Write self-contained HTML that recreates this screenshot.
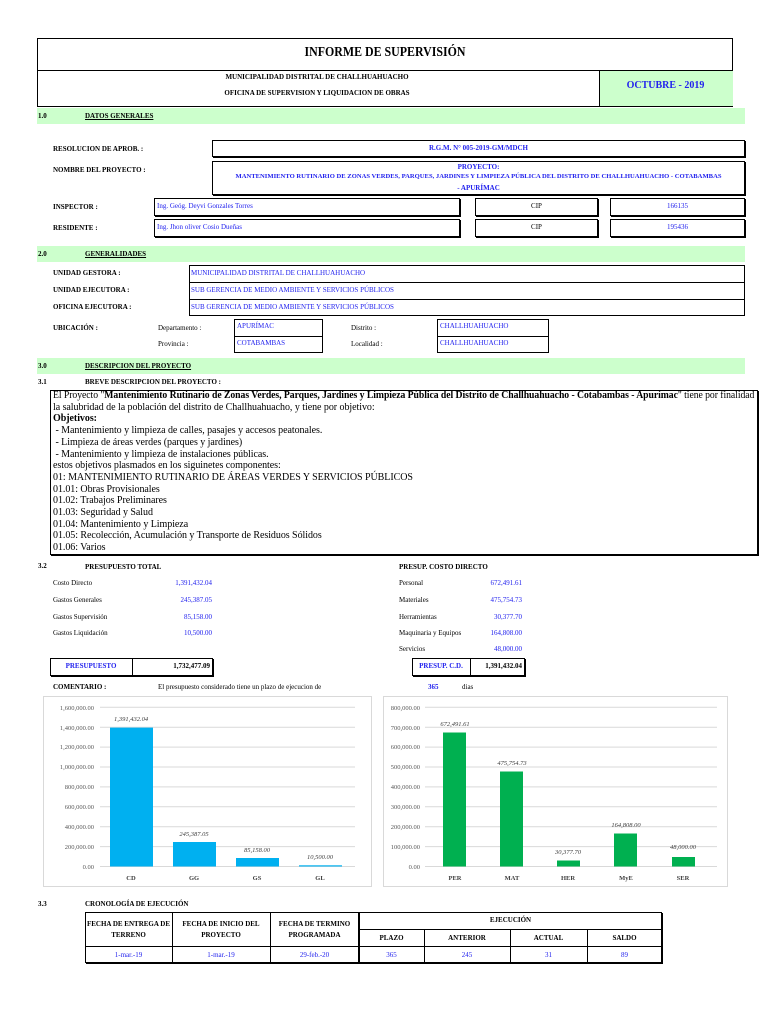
<!DOCTYPE html>
<html><head><meta charset="utf-8"><style>
body{margin:0;background:#fff;}
#p{position:relative;width:768px;height:1024px;overflow:hidden;font-family:"Liberation Serif",serif;color:#000;}
.a{position:absolute;white-space:nowrap;}
.b{position:absolute;border:1px solid #000;box-sizing:border-box;}
.s{box-shadow:1px 1px 0 #000;}
.bl{color:#2222ee;}
.g{position:absolute;background:#ccffcc;}
.f7{font-size:7px;}
.f8{font-size:8px;}
.bd{font-weight:bold;}
.c{text-align:center;}
.u{text-decoration:underline;}
</style></head><body><div id="p">

<!-- header -->
<div class="b" style="left:37px;top:38px;width:696px;height:69px;border-width:1px"></div>
<div class="a" style="left:37px;top:70px;width:696px;border-top:1px solid #000"></div>
<div class="g" style="left:599px;top:71px;width:133px;height:35px;border-left:1px solid #000"></div>
<div class="a bd c" style="left:37px;top:45px;width:696px;font-size:14px;transform:scaleX(.85);transform-origin:center">INFORME DE SUPERVISIÓN</div>
<div class="a bd c f7" style="left:37px;top:73px;width:560px">MUNICIPALIDAD DISTRITAL DE CHALLHUAHUACHO</div>
<div class="a bd c f7" style="left:37px;top:89px;width:560px">OFICINA DE SUPERVISION Y LIQUIDACION DE OBRAS</div>
<div class="a bd c bl" style="left:599px;top:80px;width:133px;font-size:10px">OCTUBRE - 2019</div>

<!-- 1.0 -->
<div class="g" style="left:37px;top:108px;width:708px;height:16px"></div>
<div class="a bd f7" style="left:38px;top:112px">1.0</div>
<div class="a bd f7 u" style="left:85px;top:112px">DATOS GENERALES</div>

<div class="a bd f7" style="left:53px;top:145px">RESOLUCION DE APROB. :</div>
<div class="b s" style="left:212px;top:140px;width:533px;height:17px"></div>
<div class="a bd f7 bl c" style="left:212px;top:144px;width:533px">R.G.M. N° 005-2019-GM/MDCH</div>

<div class="a bd f7" style="left:53px;top:166px">NOMBRE DEL PROYECTO :</div>
<div class="b s" style="left:212px;top:161px;width:533px;height:34px"></div>
<div class="a bd f7 bl c" style="left:212px;top:163px;width:533px">PROYECTO:</div>
<div class="a bd bl c" style="left:212px;top:173px;width:533px;font-size:6.6px">MANTENIMIENTO RUTINARIO DE ZONAS VERDES, PARQUES, JARDINES Y LIMPIEZA PÚBLICA DEL DISTRITO DE CHALLHUAHUACHO - COTABAMBAS</div>
<div class="a bd f7 bl c" style="left:212px;top:184px;width:533px">- APURÍMAC</div>

<div class="a bd f7" style="left:53px;top:203px">INSPECTOR :</div>
<div class="b s" style="left:154px;top:198px;width:306px;height:18px"></div>
<div class="a f7 bl" style="left:157px;top:202px">Ing. Geóg. Deyvi Gonzales Torres</div>
<div class="b s" style="left:475px;top:198px;width:123px;height:18px"></div>
<div class="a f7 c" style="left:475px;top:202px;width:123px">CIP</div>
<div class="b s" style="left:610px;top:198px;width:135px;height:18px"></div>
<div class="a f7 bl c" style="left:610px;top:202px;width:135px">166135</div>

<div class="a bd f7" style="left:53px;top:224px">RESIDENTE :</div>
<div class="b s" style="left:154px;top:219px;width:306px;height:18px"></div>
<div class="a f7 bl" style="left:157px;top:223px">Ing. Jhon oliver Cosio Dueñas</div>
<div class="b s" style="left:475px;top:219px;width:123px;height:18px"></div>
<div class="a f7 c" style="left:475px;top:223px;width:123px">CIP</div>
<div class="b s" style="left:610px;top:219px;width:135px;height:18px"></div>
<div class="a f7 bl c" style="left:610px;top:223px;width:135px">195436</div>

<!-- 2.0 -->
<div class="g" style="left:37px;top:246px;width:708px;height:16px"></div>
<div class="a bd f7" style="left:38px;top:250px">2.0</div>
<div class="a bd f7 u" style="left:85px;top:250px">GENERALIDADES</div>

<div class="a bd f7" style="left:53px;top:269px">UNIDAD GESTORA :</div>
<div class="a bd f7" style="left:53px;top:286px">UNIDAD EJECUTORA :</div>
<div class="a bd f7" style="left:53px;top:303px">OFICINA EJECUTORA :</div>
<div class="b" style="left:189px;top:265px;width:556px;height:51px"></div>
<div class="a" style="left:189px;top:282px;width:556px;border-top:1px solid #000"></div>
<div class="a" style="left:189px;top:299px;width:556px;border-top:1px solid #000"></div>
<div class="a f7 bl" style="left:191px;top:269px">MUNICIPALIDAD DISTRITAL DE CHALLHUAHUACHO</div>
<div class="a f7 bl" style="left:191px;top:286px">SUB GERENCIA DE MEDIO AMBIENTE Y SERVICIOS PÚBLICOS</div>
<div class="a f7 bl" style="left:191px;top:303px">SUB GERENCIA DE MEDIO AMBIENTE Y SERVICIOS PÚBLICOS</div>

<div class="a bd f7" style="left:53px;top:324px">UBICACIÓN :</div>
<div class="a f7" style="left:158px;top:324px">Departamento :</div>
<div class="a f7" style="left:158px;top:340px">Provincia :</div>
<div class="b" style="left:234px;top:319px;width:89px;height:34px"></div>
<div class="a" style="left:234px;top:336px;width:89px;border-top:1px solid #000"></div>
<div class="a f7 bl" style="left:237px;top:322px">APURÍMAC</div>
<div class="a f7 bl" style="left:237px;top:339px">COTABAMBAS</div>
<div class="a f7" style="left:351px;top:324px">Distrito :</div>
<div class="a f7" style="left:351px;top:340px">Localidad :</div>
<div class="b" style="left:437px;top:319px;width:112px;height:34px"></div>
<div class="a" style="left:437px;top:336px;width:112px;border-top:1px solid #000"></div>
<div class="a f7 bl" style="left:440px;top:322px">CHALLHUAHUACHO</div>
<div class="a f7 bl" style="left:440px;top:339px">CHALLHUAHUACHO</div>

<!-- 3.0 -->
<div class="g" style="left:37px;top:358px;width:708px;height:16px"></div>
<div class="a bd f7" style="left:38px;top:362px">3.0</div>
<div class="a bd f7 u" style="left:85px;top:362px">DESCRIPCION  DEL PROYECTO</div>
<div class="a bd f7" style="left:38px;top:378px">3.1</div>
<div class="a bd f7" style="left:85px;top:378px">BREVE DESCRIPCION DEL PROYECTO :</div>

<div class="b s" style="left:50px;top:390px;width:708px;height:165px"></div>
<div class="a" style="left:53px;top:390px;font-size:10px;line-height:11.7px;letter-spacing:-.05px">
<span style="display:inline-block;transform:scaleX(.97);transform-origin:left">El Proyecto "<b>Mantenimiento Rutinario de Zonas Verdes, Parques, Jardines y Limpieza Pública del Distrito de Challhuahuacho - Cotabambas - Apurímac</b>" tiene por finalidad</span><br>
la salubridad de la población del distrito de Challhuahuacho, y tiene por objetivo:<br>
<b>Objetivos:</b><br>
&nbsp;- Mantenimiento y limpieza de calles, pasajes y accesos peatonales.<br>
&nbsp;- Limpieza de áreas verdes (parques y jardines)<br>
&nbsp;- Mantenimiento y limpieza de instalaciones públicas.<br>
estos objetivos plasmados en los siguinetes componentes:<br>
01: MANTENIMIENTO RUTINARIO DE ÁREAS VERDES Y SERVICIOS PÚBLICOS<br>
01.01: Obras Provisionales<br>
01.02: Trabajos Preliminares<br>
01.03: Seguridad y Salud<br>
01.04: Mantenimiento y Limpieza<br>
01.05: Recolección, Acumulación y Transporte de Residuos Sólidos<br>
01.06: Varios</div>

<!-- 3.2 -->
<div class="a bd f7" style="left:38px;top:562px">3.2</div>
<div class="a bd f7" style="left:85px;top:563px">PRESUPUESTO TOTAL</div>
<div class="a f7" style="left:53px;top:579px">Costo Directo</div>
<div class="a f7" style="left:53px;top:596px">Gastos Generales</div>
<div class="a f7" style="left:53px;top:613px">Gastos Supervisión</div>
<div class="a f7" style="left:53px;top:629px">Gastos Liquidación</div>
<div class="a f7 bl" style="left:150px;top:579px;width:62px;text-align:right">1,391,432.04</div>
<div class="a f7 bl" style="left:150px;top:596px;width:62px;text-align:right">245,387.05</div>
<div class="a f7 bl" style="left:150px;top:613px;width:62px;text-align:right">85,158.00</div>
<div class="a f7 bl" style="left:150px;top:629px;width:62px;text-align:right">10,500.00</div>

<div class="a bd f7" style="left:399px;top:563px">PRESUP.  COSTO DIRECTO</div>
<div class="a f7" style="left:399px;top:579px">Personal</div>
<div class="a f7" style="left:399px;top:596px">Materiales</div>
<div class="a f7" style="left:399px;top:613px">Herramientas</div>
<div class="a f7" style="left:399px;top:629px">Maquinaria y Equipos</div>
<div class="a f7" style="left:399px;top:645px">Servicios</div>
<div class="a f7 bl" style="left:460px;top:579px;width:62px;text-align:right">672,491.61</div>
<div class="a f7 bl" style="left:460px;top:596px;width:62px;text-align:right">475,754.73</div>
<div class="a f7 bl" style="left:460px;top:613px;width:62px;text-align:right">30,377.70</div>
<div class="a f7 bl" style="left:460px;top:629px;width:62px;text-align:right">164,808.00</div>
<div class="a f7 bl" style="left:460px;top:645px;width:62px;text-align:right">48,000.00</div>

<div class="b s" style="left:50px;top:658px;width:163px;height:18px"></div>
<div class="a" style="left:132px;top:658px;height:18px;border-left:1px solid #000"></div>
<div class="a bd f7 bl c" style="left:50px;top:662px;width:82px">PRESUPUESTO</div>
<div class="a bd f7 c" style="left:132px;top:662px;width:78px;text-align:right">1,732,477.09</div>
<div class="b s" style="left:412px;top:658px;width:113px;height:18px"></div>
<div class="a" style="left:470px;top:658px;height:18px;border-left:1px solid #000"></div>
<div class="a bd f7 bl c" style="left:412px;top:662px;width:58px">PRESUP. C.D.</div>
<div class="a bd f7" style="left:470px;top:662px;width:52px;text-align:right">1,391,432.04</div>

<div class="a bd f7" style="left:53px;top:683px">COMENTARIO :</div>
<div class="a f7" style="left:158px;top:683px">El presupuesto considerado tiene un plazo de ejecucion de</div>
<div class="a bd f7 bl" style="left:428px;top:683px">365</div>
<div class="a f7" style="left:462px;top:683px">dias</div>

<!-- charts -->
<svg class="a" style="left:0;top:0" width="768" height="1024" font-family="Liberation Serif, serif" font-size="6.5">
<rect x="43.5" y="696.5" width="328" height="190" fill="#fff" stroke="#d9d9d9"/>
<rect x="383.5" y="696.5" width="344" height="190" fill="#fff" stroke="#d9d9d9"/>
<g stroke="#d9d9d9" stroke-width="1">
<line x1="100" x2="355" y1="866.5" y2="866.5"/><line x1="100" x2="355" y1="846.6" y2="846.6"/><line x1="100" x2="355" y1="826.7" y2="826.7"/><line x1="100" x2="355" y1="806.8" y2="806.8"/><line x1="100" x2="355" y1="786.9" y2="786.9"/><line x1="100" x2="355" y1="767" y2="767"/><line x1="100" x2="355" y1="747.1" y2="747.1"/><line x1="100" x2="355" y1="727.2" y2="727.2"/><line x1="100" x2="355" y1="707.3" y2="707.3"/>
<line x1="425" x2="717" y1="866.5" y2="866.5"/><line x1="425" x2="717" y1="846.6" y2="846.6"/><line x1="425" x2="717" y1="826.7" y2="826.7"/><line x1="425" x2="717" y1="806.8" y2="806.8"/><line x1="425" x2="717" y1="786.9" y2="786.9"/><line x1="425" x2="717" y1="767" y2="767"/><line x1="425" x2="717" y1="747.1" y2="747.1"/><line x1="425" x2="717" y1="727.2" y2="727.2"/><line x1="425" x2="717" y1="707.3" y2="707.3"/>
</g>
<g fill="#595959" text-anchor="end">
<text x="94" y="869">0.00</text><text x="94" y="849">200,000.00</text><text x="94" y="829">400,000.00</text><text x="94" y="809">600,000.00</text><text x="94" y="789">800,000.00</text><text x="94" y="769">1,000,000.00</text><text x="94" y="749">1,200,000.00</text><text x="94" y="730">1,400,000.00</text><text x="94" y="710">1,600,000.00</text>
<text x="420" y="869">0.00</text><text x="420" y="849">100,000.00</text><text x="420" y="829">200,000.00</text><text x="420" y="809">300,000.00</text><text x="420" y="789">400,000.00</text><text x="420" y="769">500,000.00</text><text x="420" y="749">600,000.00</text><text x="420" y="730">700,000.00</text><text x="420" y="710">800,000.00</text>
</g>
<g fill="#00b0f0">
<rect x="110" y="727.6" width="43" height="138.9"/><rect x="173" y="842" width="43" height="24.5"/><rect x="236" y="858" width="43" height="8.5"/><rect x="299" y="865.3" width="43" height="1.2"/>
</g>
<g fill="#00b050">
<rect x="443" y="732.5" width="23" height="134"/><rect x="500" y="771.5" width="23" height="95"/><rect x="557" y="860.5" width="23" height="6"/><rect x="614" y="833.5" width="23" height="33"/><rect x="672" y="857" width="23" height="9.5"/>
</g>
<g fill="#404040" font-style="italic" text-anchor="middle">
<text x="131" y="721">1,391,432.04</text><text x="194" y="836">245,387.05</text><text x="257" y="852">85,158.00</text><text x="320" y="859">10,500.00</text>
<text x="455" y="726">672,491.61</text><text x="512" y="765">475,754.73</text><text x="568" y="854">30,377.70</text><text x="626" y="827">164,808.00</text><text x="683" y="849">48,000.00</text>
</g>
<g fill="#404040" font-weight="bold" text-anchor="middle">
<text x="131" y="880">CD</text><text x="194" y="880">GG</text><text x="257" y="880">GS</text><text x="320" y="880">GL</text>
<text x="455" y="880">PER</text><text x="512" y="880">MAT</text><text x="568" y="880">HER</text><text x="626" y="880">MyE</text><text x="683" y="880">SER</text>
</g>
</svg>

<!-- 3.3 -->
<div class="a bd f7" style="left:38px;top:900px">3.3</div>
<div class="a bd f7" style="left:85px;top:900px">CRONOLOGÍA DE EJECUCIÓN</div>
<div class="b s" style="left:85px;top:912px;width:577px;height:51px"></div>
<div class="a" style="left:85px;top:946px;width:577px;border-top:1px solid #000"></div>
<div class="a" style="left:359px;top:929px;width:303px;border-top:1px solid #000"></div>
<div class="a" style="left:172px;top:912px;height:51px;border-left:1px solid #000"></div>
<div class="a" style="left:270px;top:912px;height:51px;border-left:1px solid #000"></div>
<div class="a" style="left:358px;top:912px;height:51px;border-left:2px solid #000"></div>
<div class="a" style="left:424px;top:929px;height:34px;border-left:1px solid #000"></div>
<div class="a" style="left:510px;top:929px;height:34px;border-left:1px solid #000"></div>
<div class="a" style="left:587px;top:929px;height:34px;border-left:1px solid #000"></div>
<div class="a bd f7 c" style="left:85px;top:919px;width:87px;line-height:11px">FECHA DE ENTREGA DE<br>TERRENO</div>
<div class="a bd f7 c" style="left:172px;top:919px;width:98px;line-height:11px">FECHA DE INICIO DEL<br>PROYECTO</div>
<div class="a bd f7 c" style="left:270px;top:919px;width:89px;line-height:11px">FECHA DE TERMINO<br>PROGRAMADA</div>
<div class="a bd f7 c" style="left:359px;top:916px;width:303px">EJECUCIÓN</div>
<div class="a bd f7 c" style="left:359px;top:934px;width:65px">PLAZO</div>
<div class="a bd f7 c" style="left:424px;top:934px;width:86px">ANTERIOR</div>
<div class="a bd f7 c" style="left:510px;top:934px;width:77px">ACTUAL</div>
<div class="a bd f7 c" style="left:587px;top:934px;width:75px">SALDO</div>
<div class="a f7 bl c" style="left:85px;top:951px;width:87px">1-mar.-19</div>
<div class="a f7 bl c" style="left:172px;top:951px;width:98px">1-mar.-19</div>
<div class="a f7 bl c" style="left:270px;top:951px;width:89px">29-feb.-20</div>
<div class="a f7 bl c" style="left:359px;top:951px;width:65px">365</div>
<div class="a f7 bl c" style="left:424px;top:951px;width:86px">245</div>
<div class="a f7 bl c" style="left:510px;top:951px;width:77px">31</div>
<div class="a f7 bl c" style="left:587px;top:951px;width:75px">89</div>

</div></body></html>
